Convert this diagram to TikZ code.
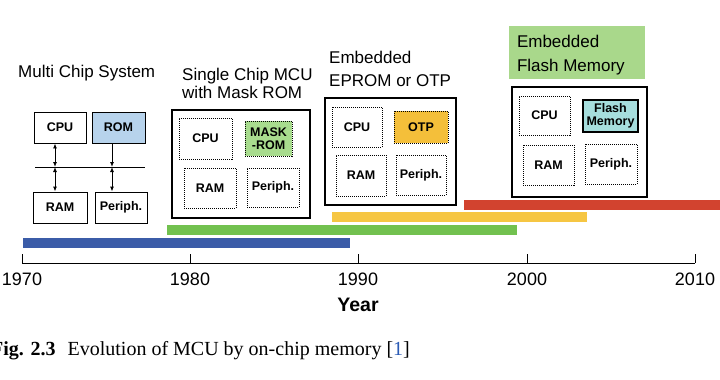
\documentclass[tikz,border=0pt]{standalone}
\usepackage{fontspec}
\setmainfont{Liberation Sans}
\newfontfamily\capfont{Liberation Serif}
\usetikzlibrary{arrows.meta,positioning}
\definecolor{RomBlue}{HTML}{B7D3EC}
\definecolor{MaskGreen}{HTML}{A8DC8E}
\definecolor{OtpGold}{HTML}{F4BF3A}
\definecolor{FlashTeal}{HTML}{A6DEDD}
\definecolor{TagGreen}{HTML}{A9D88B}
\definecolor{BarBlue}{HTML}{3B5CA8}
\definecolor{BarGreen}{HTML}{72C14F}
\definecolor{BarYellow}{HTML}{F6C643}
\definecolor{BarRed}{HTML}{D2432F}
\definecolor{LinkBlue}{HTML}{2B5BB5}

\begin{document}
\begin{tikzpicture}[x=1pt,y=-1pt,>={Latex[length=5pt,width=4pt]},
 lbl/.style={font=\fontsize{12.5}{13.5}\selectfont\bfseries,align=center,inner sep=0pt},
 chip/.style={lbl,draw,line width=0.9pt},
 part/.style={lbl,draw,densely dotted,line width=1pt},
 frame/.style={draw,line width=1.1pt,inner sep=0pt},
 head/.style={font=\fontsize{17}{18}\selectfont,align=left,inner sep=0pt,anchor=north west},
 sz/.style 2 args={minimum width=#1pt,minimum height=#2pt}]
\useasboundingbox (0,0) rectangle (720,380);

% multi chip system
\node[head] (t1) at (18,65) {Multi Chip System};
\node[chip,sz={52}{31}] (cpu1) at (60,127.5) {CPU};
\node[chip,sz={53}{31},fill=RomBlue] (rom1) at (118.5,127.5) {ROM};
\node[chip,sz={54}{31}] (ram1) at (60,207.5) {RAM};
\node[chip,sz={52}{31}] (per1) at (121,207.5) {Periph.};
\coordinate (busL) at (35,167);
\coordinate (busR) at (145,167);
\coordinate (busA) at (55,167);
\coordinate (busB) at (112,167);
\draw[line width=0.9pt] (busL) -- (busR);
\draw[<->,line width=0.9pt] (cpu1.south -| busA) -- (busA);
\draw[<->,line width=0.9pt] (busA) -- (busA |- ram1.north);
\draw[->,line width=0.9pt] (rom1.south -| busB) -- (busB);
\draw[<->,line width=0.9pt] (busB) -- (busB |- per1.north);

% single chip MCU
\node[head] (t2) at (182,67.5) {Single Chip MCU\\with Mask ROM};
\node[frame,sz={138}{108}] (mcu2) at (241,164) {};
\node[part,sz={53}{41}] (cpu2) at (205.5,138.5) {CPU};
\node[part,sz={47}{35},fill=MaskGreen] (rom2) at (268.5,138.5) {MASK\\-ROM};
\node[part,sz={52}{40}] (ram2) at (210,188) {RAM};
\node[part,sz={52}{39}] (per2) at (273,187.5) {Periph.};

% EPROM / OTP
\node[head,font=\fontsize{17}{22.5}\selectfont] (t3) at (329,51) {Embedded\\EPROM or OTP};
\node[frame,sz={131}{107}] (mcu3) at (390.5,151.5) {};
\node[part,sz={50}{40}] (cpu3) at (357,127) {CPU};
\node[part,sz={54}{32},fill=OtpGold] (otp3) at (421,127) {OTP};
\node[part,sz={50}{41}] (ram3) at (361,175.5) {RAM};
\node[part,sz={50}{40}] (per3) at (421,175) {Periph.};

% flash
\node[fill=TagGreen,sz={136}{53},inner sep=0pt] (tag4) at (577,52.5) {};
\node[head,font=\fontsize{17}{24.5}\selectfont,xshift=8pt,yshift=-9pt] (t4) at (tag4.north west) {Embedded\\Flash Memory};
\node[frame,line width=2.6pt,sz={135}{110}] (mcu4) at (579.5,142) {};
\node[part,sz={51}{39}] (cpu4) at (544.5,115.5) {CPU};
\node[chip,line width=1.6pt,sz={55}{32},fill=FlashTeal] (fla4) at (610.5,116) {Flash\\Memory};
\node[part,sz={51}{40}] (ram4) at (548.5,165) {RAM};
\node[part,sz={52}{40}] (per4) at (611,164) {Periph.};

% bars and time axis
\foreach \c/\a/\b/\y in {BarBlue/23/350/238,BarGreen/167/517/225,BarYellow/332/587/212,BarRed/464/720/200}
  \fill[\c] (\a,\y) rectangle (\b,\y+10);
\draw[line width=1pt] (22,263) -- (695,263);
\foreach \x/\yr in {22/1970,190/1980,358/1990,527/2000,695/2010}{
  \draw[line width=1pt] (\x,263) -- (\x,254);
  \node[font=\fontsize{18}{20}\selectfont] (y\yr) at (\x,279) {\yr};}
\node[font=\fontsize{19.5}{22}\selectfont\bfseries] (year) at (358,305) {Year};

\node[font=\capfont\fontsize{20}{24}\selectfont,anchor=base west,inner sep=0pt] (cap) at (-9,355)
  {\textbf{Fig. 2.3}\hspace{0.6em}Evolution of MCU by on-chip memory [{\color{LinkBlue}1}]};
\end{tikzpicture}
\end{document}
